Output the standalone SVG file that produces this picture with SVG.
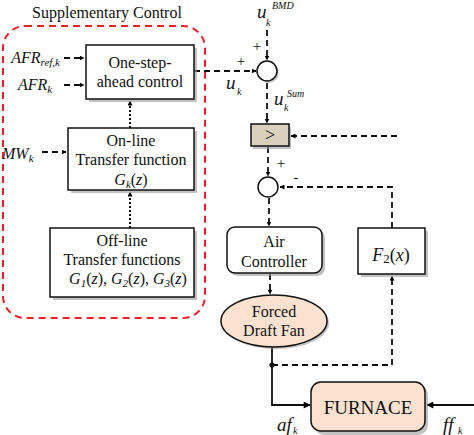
<svg xmlns="http://www.w3.org/2000/svg" width="474" height="435" viewBox="0 0 474 435">
<defs>
<marker id="ah" viewBox="0 0 10 10" refX="9" refY="5" markerWidth="5" markerHeight="5" orient="auto" markerUnits="userSpaceOnUse"><path d="M0,0 L10,5 L0,10 z" fill="#000"/></marker>
<marker id="ahb" viewBox="0 0 10 10" refX="9" refY="5" markerWidth="9" markerHeight="7" orient="auto" markerUnits="userSpaceOnUse"><path d="M0,0 L10,5 L0,10 z" fill="#000"/></marker>
</defs>
<style>
text{fill:#111;font-family:'Liberation Serif','Times New Roman',serif;}
.t{font-size:16px;text-anchor:middle;}
.l{font-size:16px;font-style:italic;}
.s{font-size:10px;font-style:italic;}
.box{fill:#fff;stroke:#111;stroke-width:1.5;}
.sh{fill:#9a9a9a;opacity:0.6;}
.peach{fill:#fbe2d0;stroke:#111;stroke-width:1.5;}
.dash{fill:none;stroke:#111;stroke-width:1.8;stroke-dasharray:6,4;}
.dot{fill:none;stroke:#111;stroke-width:2;stroke-dasharray:2,2;}
.solid{fill:none;stroke:#111;stroke-width:1.8;}
.pm{font-size:15px;text-anchor:middle;}
</style>
<text x="107" y="18" style="font-size:16px;text-anchor:middle">Supplementary Control</text>
<rect x="3" y="26" width="202" height="292" rx="22" fill="none" stroke="#e8202a" stroke-width="2" stroke-dasharray="7,5"/>

<g id="connectors">
<line class="dash" x1="64" y1="58" x2="84" y2="58" marker-end="url(#ah)"/>
<line class="dash" x1="64" y1="85" x2="84" y2="85" marker-end="url(#ah)"/>
<line class="dash" x1="42" y1="152" x2="66" y2="152" marker-end="url(#ah)"/>
<line class="dot" x1="130" y1="128" x2="130" y2="101" marker-end="url(#ah)"/>
<line class="dot" x1="130" y1="228" x2="130" y2="192" marker-end="url(#ah)"/>
<line class="dash" x1="194" y1="71" x2="256" y2="71" marker-end="url(#ah)"/>
<line class="dash" x1="267" y1="30" x2="267" y2="60" marker-end="url(#ah)"/>
<line class="dash" x1="267" y1="83" x2="267" y2="123" marker-end="url(#ah)"/>
<line class="dash" x1="397" y1="136" x2="291" y2="136" marker-end="url(#ah)"/>
<line class="dash" x1="268" y1="147" x2="268" y2="176" marker-end="url(#ah)"/>
<polyline class="dash" points="392,228 392,187 280,187" marker-end="url(#ah)"/>
<line class="dash" x1="269" y1="198" x2="269" y2="226" marker-end="url(#ah)"/>
<line class="dash" x1="270" y1="274" x2="270" y2="294" marker-end="url(#ah)"/>
<polyline class="dash" points="272,365 392,365 392,276" marker-end="url(#ah)"/>
<polyline class="solid" points="272,347 272,405 310,405" marker-end="url(#ahb)"/>
<line class="solid" x1="474" y1="405" x2="427" y2="405" marker-end="url(#ahb)"/>
<circle cx="272" cy="365" r="2.6" fill="#111"/>
</g>

<g id="one-step">
<rect class="sh" x="89" y="48" width="108" height="54"/>
<rect class="box" x="86" y="45" width="108" height="54"/>
<text class="t" x="140" y="68">One-step-</text>
<text class="t" x="140" y="87">ahead control</text>
</g>

<g id="online">
<rect class="sh" x="71" y="131" width="126" height="62"/>
<rect class="box" x="68" y="128" width="126" height="62"/>
<text class="t" x="131" y="146">On-line</text>
<text class="t" x="131" y="165">Transfer function</text>
<text class="t" x="131" y="185" style="font-style:italic">G<tspan style="font-size:11px" dy="3">k</tspan><tspan dy="-3" style="font-style:normal">(</tspan>z<tspan style="font-style:normal">)</tspan></text>
</g>

<g id="offline">
<rect class="sh" x="53" y="231" width="144" height="69"/>
<rect class="box" x="50" y="228" width="144" height="69"/>
<text class="t" x="122" y="246">Off-line</text>
<text class="t" x="122" y="265">Transfer functions</text>
<text class="t" x="128" y="284" style="font-style:italic">G<tspan style="font-size:11px" dy="3">1</tspan><tspan dy="-3" style="font-style:normal">(</tspan>z<tspan style="font-style:normal">), </tspan>G<tspan style="font-size:11px" dy="3">2</tspan><tspan dy="-3" style="font-style:normal">(</tspan>z<tspan style="font-style:normal">), </tspan>G<tspan style="font-size:11px" dy="3">3</tspan><tspan dy="-3" style="font-style:normal">(</tspan>z<tspan style="font-style:normal">)</tspan></text>
</g>

<g id="labels-left">
<text class="l" x="60" y="63" text-anchor="end">AFR<tspan style="font-size:11px" dy="3">ref,k</tspan></text>
<text class="l" x="18" y="90">AFR<tspan style="font-size:11px" dy="3">k</tspan></text>
<text class="l" x="2" y="159">MW<tspan style="font-size:11px" dy="3">k</tspan></text>
</g>

<g id="sum1">
<circle cx="269" cy="73" r="10" fill="#aaa" opacity="0.6"/>
<circle cx="267" cy="71" r="10" fill="#fff" stroke="#111" stroke-width="1.5"/>
<text class="l" x="257" y="18" style="font-size:19px">u</text>
<text class="s" x="266" y="26">k</text>
<text class="s" x="272" y="9">BMD</text>
<text class="pm" x="257" y="51">+</text>
<text class="pm" x="241" y="66">+</text>
<text class="l" x="226" y="89" style="font-size:19px">u</text>
<text class="s" x="237" y="95">k</text>
<text class="l" x="274" y="105" style="font-size:19px">u</text>
<text class="s" x="284" y="111">k</text>
<text class="s" x="287" y="97">Sum</text>
</g>

<g id="compare">
<rect class="sh" x="253" y="127" width="38" height="22"/>
<rect x="251" y="124" width="38" height="22" fill="#d9d1bc" stroke="#111" stroke-width="1.5"/>
<text x="270" y="141" style="font-size:18px;text-anchor:middle">&gt;</text>
</g>

<g id="sum2">
<circle cx="268" cy="187" r="10" fill="#fff" stroke="#111" stroke-width="1.5"/>
<text class="pm" x="281" y="168">+</text>
<text class="pm" x="296" y="182">-</text>
</g>

<g id="air-controller">
<rect class="sh" x="230" y="230" width="95" height="46" rx="8"/>
<rect class="box" x="227" y="227" width="95" height="46" rx="8"/>
<text class="t" x="274" y="247">Air</text>
<text class="t" x="274" y="267">Controller</text>
</g>

<g id="f2">
<rect class="sh" x="361" y="231" width="67" height="46"/>
<rect class="box" x="358" y="228" width="67" height="46"/>
<text class="t" x="391" y="261" style="font-style:italic;font-size:18px">F<tspan style="font-size:13px;font-style:normal" dy="2">2</tspan><tspan dy="-2" style="font-style:normal">(</tspan>x<tspan style="font-style:normal">)</tspan></text>
</g>

<g id="fan">
<ellipse cx="276" cy="323" rx="53" ry="26" fill="#999" opacity="0.6"/>
<ellipse class="peach" cx="274" cy="321" rx="53" ry="26"/>
<text class="t" x="274" y="317">Forced</text>
<text class="t" x="274" y="336">Draft Fan</text>
</g>

<g id="furnace">
<rect class="sh" x="314" y="385" width="114" height="50" rx="10"/>
<rect class="peach" x="311" y="382" width="114" height="49" rx="10"/>
<text class="t" x="368" y="414" style="font-size:19px">FURNACE</text>
<text class="l" x="277" y="431" style="font-size:19px">af</text>
<text class="s" x="293" y="434">k</text>
<text class="l" x="443" y="431" style="font-size:19px">ff</text>
<text class="s" x="458" y="434">k</text>
</g>
</svg>
